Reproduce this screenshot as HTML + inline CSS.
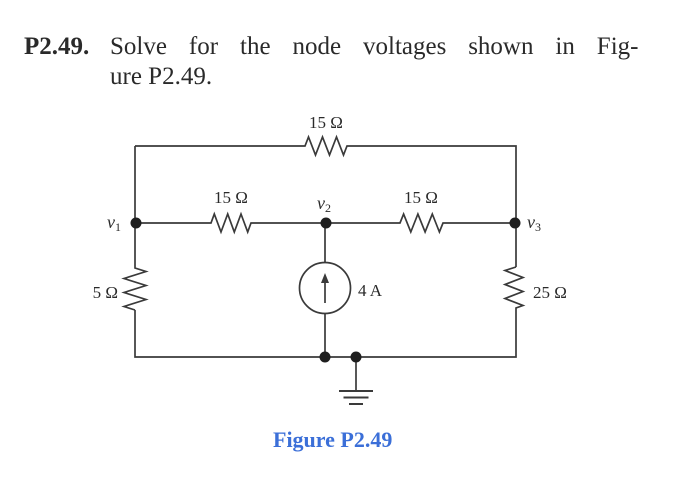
<!DOCTYPE html>
<html>
<head>
<meta charset="utf-8">
<style>
  html, body { margin:0; padding:0; background:#fff; }
  body { width:688px; height:482px; overflow:hidden; }
  svg { display:block; }
  text { font-family: "Liberation Serif", "DejaVu Serif", serif; fill:#2a2a2a; }
</style>
</head>
<body>
<svg width="688" height="482" viewBox="0 0 688 482" xmlns="http://www.w3.org/2000/svg">
  <!-- Title -->
  <text x="24" y="54" font-size="25" font-weight="bold">P2.49.</text>
  <text x="110" y="54" font-size="25">Solve</text>
  <text x="188.9" y="54" font-size="25">for</text>
  <text x="240" y="54" font-size="25">the</text>
  <text x="292.5" y="54" font-size="25">node</text>
  <text x="363" y="54" font-size="25">voltages</text>
  <text x="468.2" y="54" font-size="25">shown</text>
  <text x="555.4" y="54" font-size="25">in</text>
  <text x="596.8" y="54" font-size="25">Fig-</text>
  <text x="110" y="84" font-size="25">ure P2.49.</text>

  <g stroke="#3a3a3a" stroke-width="1.7" fill="none" stroke-linejoin="miter">
    <!-- top wire with 15 ohm -->
    <path d="M135,146 H305 L308.5,137 L315.5,155 L322.5,137 L329.5,155 L336.5,137 L343.5,155 L347,146 H516 V267"/>
    <!-- right 25 ohm -->
    <path d="M516,267 L505,270.5 L523,277.5 L505,284.5 L523,291.5 L505,298.5 L523,305.5 L516,308 V357 H135 V310"/>
    <!-- left 5 ohm -->
    <path d="M135,310 L124,306.5 L146,299.5 L124,292.5 L146,285.5 L124,278.5 L146,271.5 L135,268 V146"/>
    <!-- middle wire -->
    <path d="M135,223 H211 L214.3,214 L221,232 L227.7,214 L234.3,232 L241,214 L247.7,232 L251,223 H400 L403.6,214 L410.8,232 L417.9,214 L425.1,232 L432.3,214 L439.4,232 L443,223 H516"/>
    <!-- current source leads -->
    <path d="M325,223 V262.5 M325,313.5 V357"/>
    <circle cx="325" cy="288" r="25.5"/>
    <path d="M325,303 V280"/>
    <!-- ground -->
    <path d="M356,357 V391"/>
    <path d="M339,391 H373" stroke-width="2"/>
    <path d="M343.5,397.5 H368.5" stroke-width="2"/>
    <path d="M349,404 H363" stroke-width="2"/>
  </g>
  <!-- arrowhead -->
  <polygon points="325,273 321,283 329,283" fill="#3a3a3a"/>

  <!-- nodes -->
  <g fill="#1e1e1e">
    <circle cx="136" cy="223" r="5.5"/>
    <circle cx="326" cy="223" r="5.5"/>
    <circle cx="515" cy="223" r="5.5"/>
    <circle cx="325" cy="357" r="5.5"/>
    <circle cx="356" cy="357" r="5.5"/>
  </g>

  <!-- resistor labels -->
  <text x="326" y="128" font-size="17" text-anchor="middle">15 Ω</text>
  <text x="231" y="203" font-size="17" text-anchor="middle">15 Ω</text>
  <text x="421" y="203" font-size="17" text-anchor="middle">15 Ω</text>
  <text x="118" y="298" font-size="17" text-anchor="end">5 Ω</text>
  <text x="533" y="298" font-size="17">25 Ω</text>
  <text x="358" y="296" font-size="17">4 A</text>

  <!-- node voltage labels -->
  <text x="107" y="228" font-size="18" font-style="italic">v<tspan font-size="12" font-style="normal" dy="3">1</tspan></text>
  <text x="317" y="209" font-size="18" font-style="italic">v<tspan font-size="12" font-style="normal" dy="3">2</tspan></text>
  <text x="527" y="228" font-size="18" font-style="italic">v<tspan font-size="12" font-style="normal" dy="3">3</tspan></text>

  <!-- caption -->
  <text x="273" y="447" font-size="22" font-weight="bold" style="fill:#3b6fd8">Figure P2.49</text>
</svg>
</body>
</html>
